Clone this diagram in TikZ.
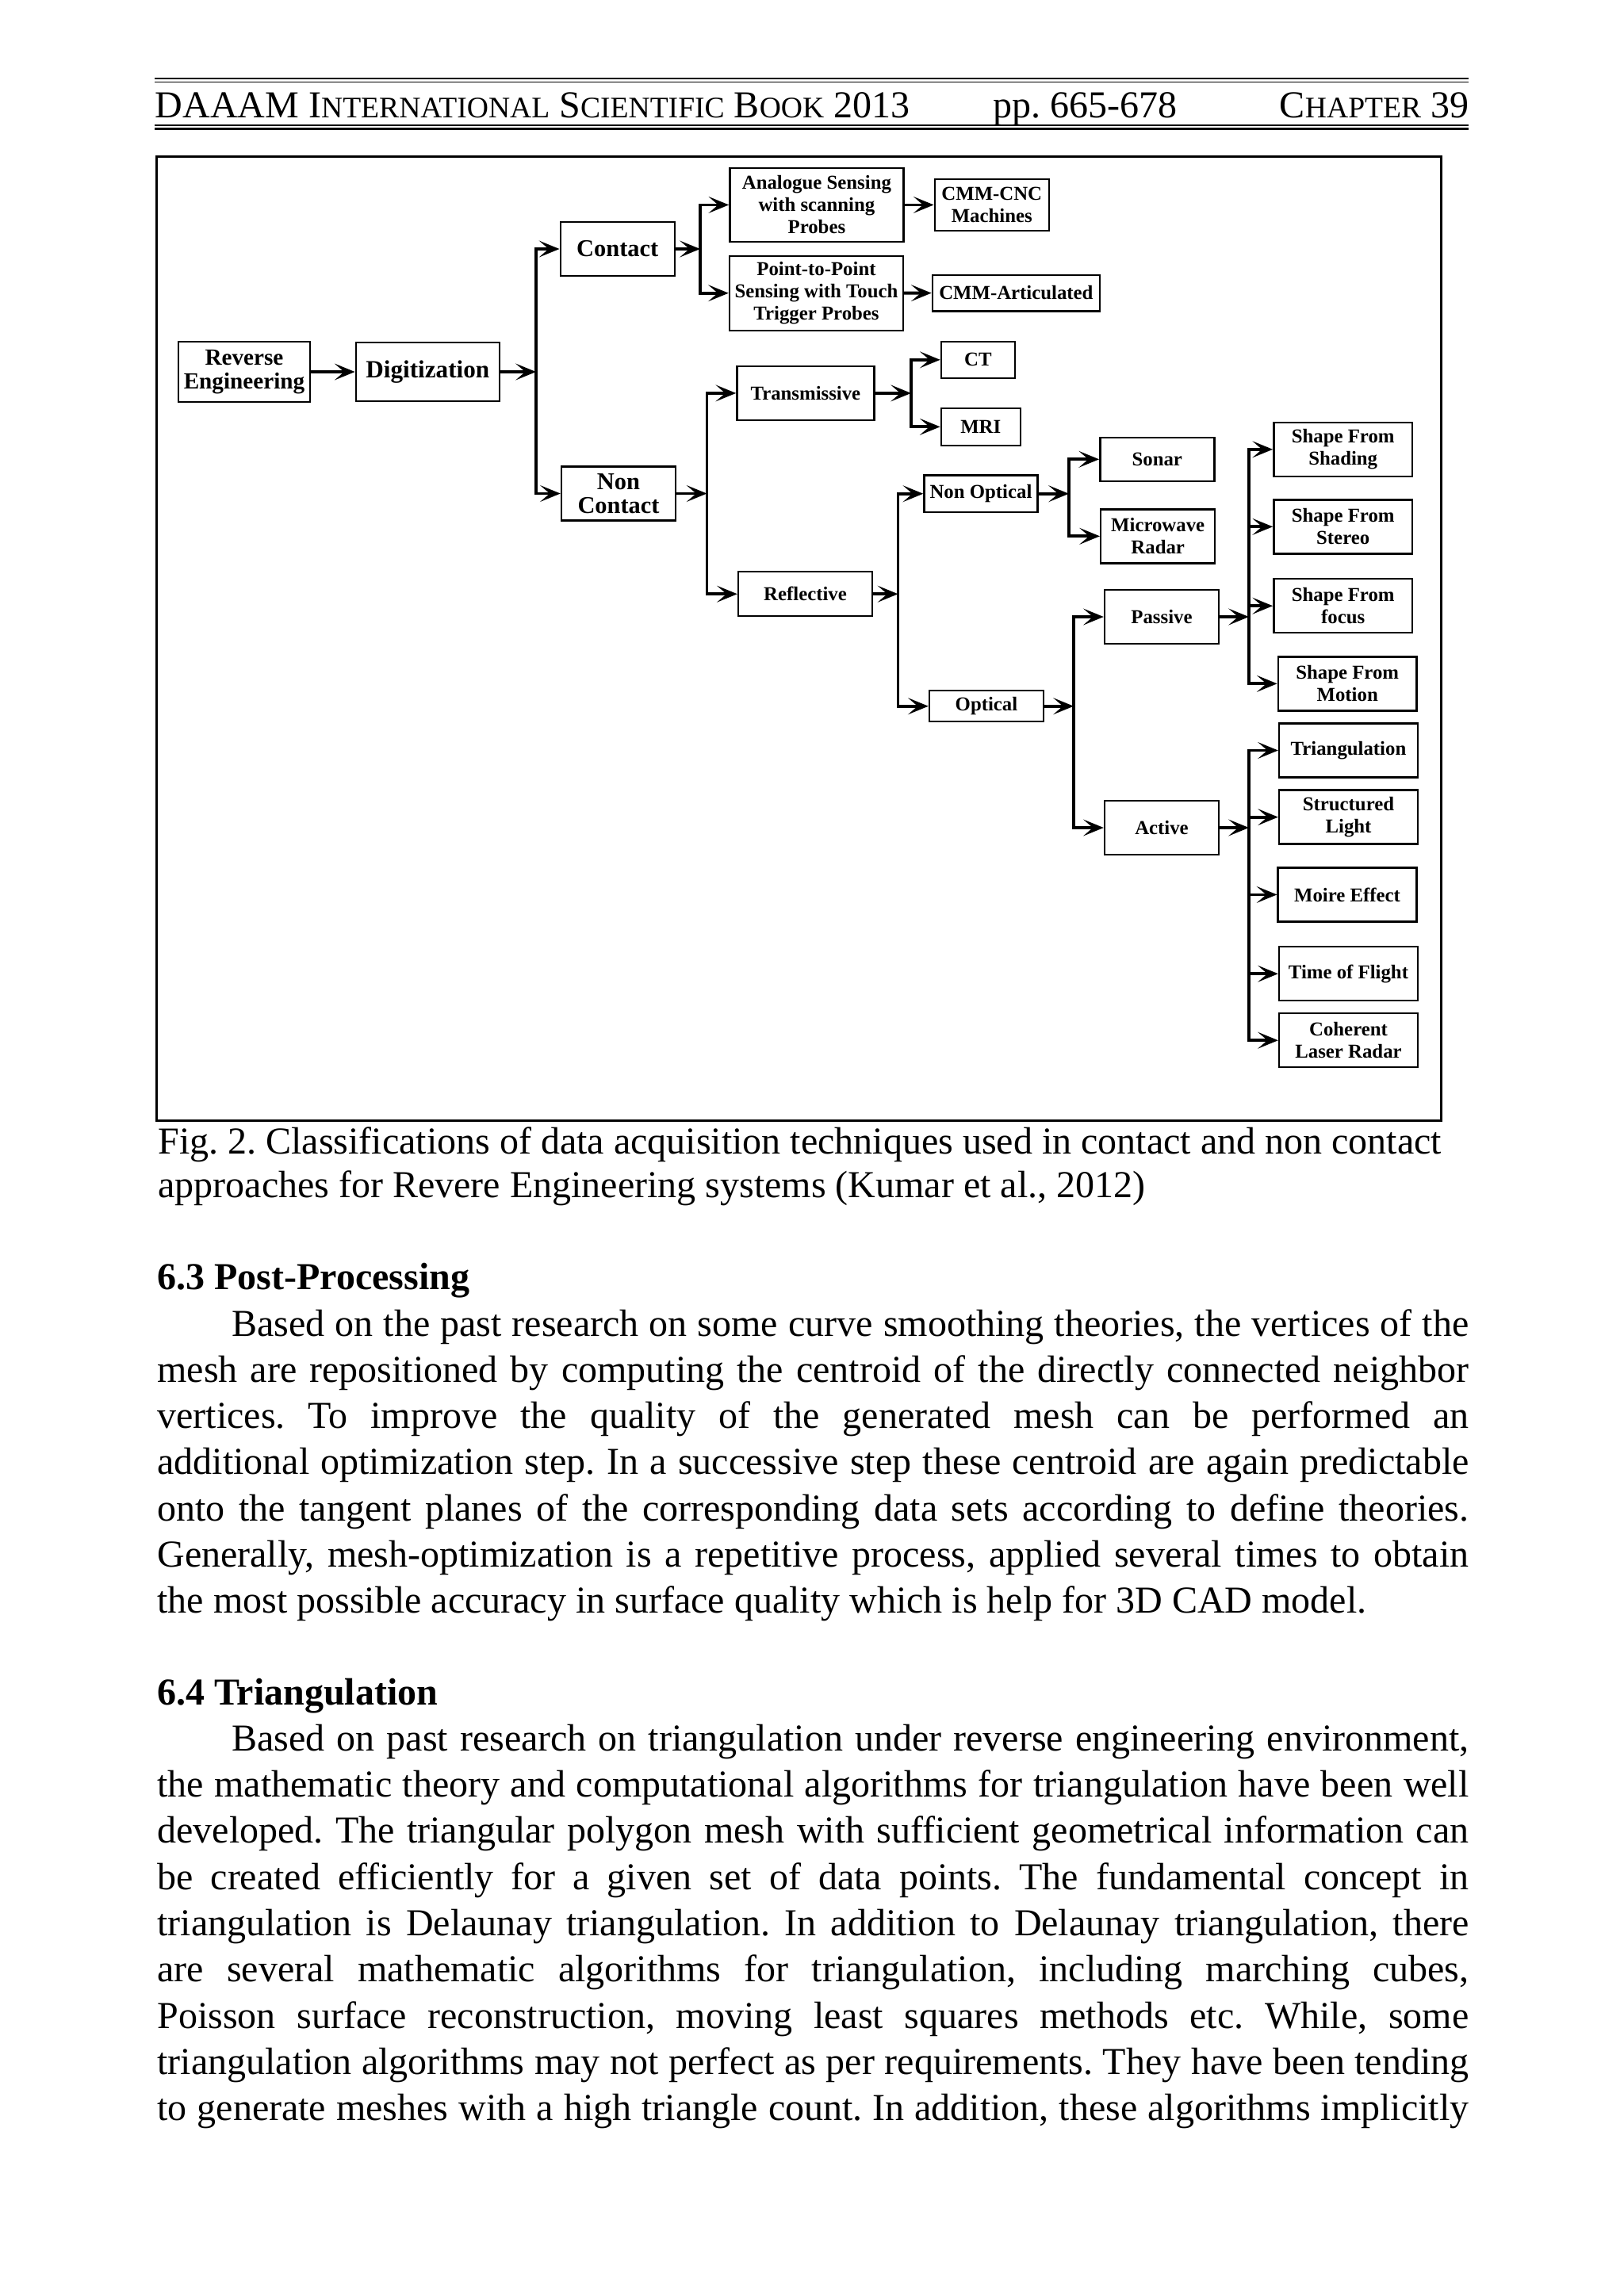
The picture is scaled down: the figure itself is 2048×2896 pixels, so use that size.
\documentclass[tikz,border=0pt]{standalone}
\usepackage{fontspec}
\setmainfont{Liberation Serif}
\usetikzlibrary{arrows.meta}
\newcommand\smc[1]{{\fontsize{9.4}{9.4}\selectfont #1}}
\newcommand\jl[1]{\makebox[413.5pt][s]{#1}}
\tikzset{
  rbig/.style={draw,line width=0.6pt,inner sep=0pt,align=center,minimum width=36pt,minimum height=17pt,font=\fontsize{7.6}{7.5}\selectfont\bfseries},
  rsmall/.style={draw,line width=0.6pt,inner sep=0pt,align=center,minimum width=36pt,minimum height=17pt,font=\fontsize{6.2}{7}\selectfont\bfseries},
  rwide/.style={rsmall,minimum width=43.7pt},
  rarr/.style={-{Stealth[length=6.4pt,width=5.2pt,inset=3pt]},line width=0.95pt},
  ptext/.style={anchor=base west,inner sep=0pt,font=\fontsize{12}{14.6}\selectfont\frenchspacing},
  phead/.style={ptext,font=\fontsize{12}{14.6}\selectfont\bfseries},
  hrule/.style={line width=0.4pt}
}
\begin{document}
\begin{tikzpicture}[x=0.25pt,y=-0.25pt]
  \fill[white] (0,0) rectangle (2048,2896);
  \useasboundingbox (0,0) rectangle (2048,2896);
  % running head
  \draw[hrule] (195,99) -- (1852,99);
  \draw[hrule] (195,103.5) -- (1852,103.5);
  \draw[hrule] (195,158) -- (1852,158);
  \draw[hrule,line width=0.65pt] (195,162.5) -- (1852,162.5);
  \node[ptext] (hbook) at (195,148) {DAAAM I\smc{NTERNATIONAL} S\smc{CIENTIFIC} B\smc{OOK} 2013};
  \node[ptext] (hpages) at (1252,148) {pp. 665-678};
  \node[ptext,anchor=base east] (hchap) at (1853,148) {C\smc{HAPTER} 39};
  % figure frame
  \draw[line width=0.75pt] (197,197.5) rectangle (1817,1413);
  % boxes
  \node[rbig,minimum width=41.5pt,minimum height=19pt,font=\fontsize{7.3}{7.5}\selectfont\bfseries] (reveng) at (308,469) {Reverse\\Engineering};
  \node[rbig,minimum width=45.25pt,minimum height=18.5pt,font=\fontsize{7.8}{7.5}\selectfont\bfseries] (digit) at (539.3,469) {Digitization};
  \node[rbig] (contact) at (778.7,314) {Contact};
  \node[rbig] (noncont) at (780,622.5) {Non\\Contact};
  \node[rsmall,minimum width=54.75pt,minimum height=23.3pt] (analog) at (1029.9,258.4) {Analogue Sensing\\with scanning\\Probes};
  \node[rsmall,minimum width=54.75pt,minimum height=23.5pt] (ptpt) at (1029.5,369.7) {Point-to-Point\\Sensing with Touch\\Trigger Probes};
  \node[rsmall,minimum height=16.25pt] (cmmcnc) at (1250.8,258.4) {CMM-CNC\\Machines};
  \node[rsmall,minimum width=52.75pt,minimum height=11.4pt] (cmmart) at (1281.4,369.5) {CMM-Articulated};
  \node[rsmall,minimum width=43.25pt] (transm) at (1015.9,495.9) {Transmissive};
  \node[rsmall,minimum width=23.25pt,minimum height=11.5pt] (ct) at (1233.4,453.8) {CT};
  \node[rsmall,minimum width=25pt,minimum height=11.7pt] (mri) at (1236.8,538.3) {MRI};
  \node[rsmall,minimum width=42.25pt,minimum height=14pt] (reflect) at (1015.5,749.2) {Reflective};
  \node[rsmall,minimum width=35.75pt,minimum height=11.6pt] (nonopt) at (1237,622.7) {Non Optical};
  \node[rsmall,minimum height=9.75pt] (optical) at (1244,890.7) {Optical};
  \node[rsmall,minimum height=13.7pt] (sonar) at (1459.3,579.3) {Sonar};
  \node[rsmall] (microw) at (1460.2,676.3) {Microwave\\Radar};
  \node[rsmall] (passive) at (1465,778) {Passive};
  \node[rsmall] (active) at (1465,1044) {Active};
  \node[rwide] (shading) at (1693.7,566.8) {Shape From\\Shading};
  \node[rwide] (stereo) at (1693.7,664.3) {Shape From\\Stereo};
  \node[rwide] (focus) at (1693.7,764.2) {Shape From\\focus};
  \node[rwide] (motion) at (1699.2,862.3) {Shape From\\Motion};
  \node[rwide] (triang) at (1700.5,946.5) {Triangulation};
  \node[rwide] (struct) at (1700.5,1030.6) {Structured\\Light};
  \node[rwide] (moire) at (1699,1128.4) {Moire Effect};
  \node[rwide] (tof) at (1700.5,1228.2) {Time of Flight};
  \node[rwide] (coherent) at (1700.5,1312.2) {Coherent\\Laser Radar};
  % trunk positions
  \coordinate (tA) at (676,0);
  \coordinate (tB) at (883,0);
  \coordinate (tC) at (891.5,0);
  \coordinate (tD) at (1149,0);
  \coordinate (tE) at (1132.5,0);
  \coordinate (tF) at (1348,0);
  \coordinate (tG) at (1354,0);
  \coordinate (tH) at (1575,0);
  % connectors
  \draw[rarr] (reveng) -- (digit);
  \draw[rarr] (digit) -- (digit -| tA);
  \draw[rarr] (digit -| tA) |- (contact);
  \draw[rarr] (digit -| tA) |- (noncont);
  \draw[rarr] (contact) -- (contact -| tB);
  \draw[rarr] (contact -| tB) |- (analog);
  \draw[rarr] (contact -| tB) |- (ptpt);
  \draw[rarr] (analog) -- (cmmcnc);
  \draw[rarr] (ptpt) -- (cmmart);
  \draw[rarr] (noncont) -- (noncont -| tC);
  \draw[rarr] (noncont -| tC) |- (transm);
  \draw[rarr] (noncont -| tC) |- (reflect);
  \draw[rarr] (transm) -- (transm -| tD);
  \draw[rarr] (transm -| tD) |- (ct);
  \draw[rarr] (transm -| tD) |- (mri);
  \draw[rarr] (reflect) -- (reflect -| tE);
  \draw[rarr] (reflect -| tE) |- (nonopt);
  \draw[rarr] (reflect -| tE) |- (optical);
  \draw[rarr] (nonopt) -- (nonopt -| tF);
  \draw[rarr] (nonopt -| tF) |- (sonar);
  \draw[rarr] (nonopt -| tF) |- (microw);
  \draw[rarr] (optical) -- (optical -| tG);
  \draw[rarr] (optical -| tG) |- (passive);
  \draw[rarr] (optical -| tG) |- (active);
  \draw[rarr] (passive) -- (passive -| tH);
  \foreach \n in {shading,stereo,focus,motion} \draw[rarr] (passive -| tH) |- (\n);
  \draw[rarr] (active) -- (active -| tH);
  \foreach \n in {triang,struct,moire,tof,coherent} \draw[rarr] (active -| tH) |- (\n);
  % caption
  \node[ptext] (capa) at (198.6,1455) {\makebox[404.6pt][s]{Fig. 2. Classifications of data acquisition techniques used in contact and non contact}};
  \node[ptext] (capb) at (198.6,1510) {approaches for Revere Engineering systems (Kumar et al., 2012)};
  % section 6.3
  \node[phead] (hpost) at (197.6,1626.7) {6.3 Post-Processing};
  \node[ptext] (pa0) at (197.6,1685) {\jl{\hspace*{23.5pt}Based on the past research on some curve smoothing theories, the vertices of the}};
  \foreach \linetext [count=\k] in {{mesh are repositioned by computing the centroid of the directly connected neighbor},
      {vertices. To improve the quality of the generated mesh can be performed an},
      {additional optimization step. In a successive step these centroid are again predictable},
      {onto the tangent planes of the corresponding data sets according to define theories.},
      {Generally, mesh-optimization is a repetitive process, applied several times to obtain}}
    \node[ptext] (pa\k) at (197.6,{1685+58.3*\k}) {\jl{\linetext}};
  \node[ptext] (pa6) at (197.6,{1685+58.3*6}) {the most possible accuracy in surface quality which is help for 3D CAD model.};
  % section 6.4
  \node[phead] (htri) at (197.6,2150) {6.4 Triangulation};
  \node[ptext] (pb0) at (197.6,2208.3) {\jl{\hspace*{23.5pt}Based on past research on triangulation under reverse engineering environment,}};
  \foreach \linetext [count=\k] in {{the mathematic theory and computational algorithms for triangulation have been well},
      {developed. The triangular polygon mesh with sufficient geometrical information can},
      {be created efficiently for a given set of data points. The fundamental concept in},
      {triangulation is Delaunay triangulation. In addition to Delaunay triangulation, there},
      {are several mathematic algorithms for triangulation, including marching cubes,},
      {Poisson surface reconstruction, moving least squares methods etc. While, some},
      {triangulation algorithms may not perfect as per requirements. They have been tending},
      {to generate meshes with a high triangle count. In addition, these algorithms implicitly}}
    \node[ptext] (pb\k) at (197.6,{2208.3+58.3*\k}) {\jl{\linetext}};
\end{tikzpicture}
\end{document}
